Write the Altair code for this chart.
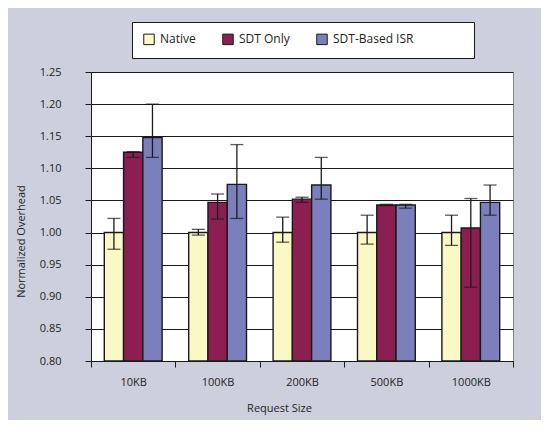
import altair as alt
import pandas as pd

categories = ["10KB", "100KB", "200KB", "500KB", "1000KB"]
series = ["Native", "SDT Only", "SDT-Based ISR"]

native = [1.000, 1.000, 1.000, 1.000, 1.000]
native_lo = [0.974, 0.996, 0.985, 0.982, 0.980]
native_hi = [1.022, 1.005, 1.024, 1.027, 1.027]

sdt = [1.125, 1.047, 1.052, 1.043, 1.007]
sdt_lo = [1.117, 1.021, 1.047, 1.042, 0.915]
sdt_hi = [1.126, 1.060, 1.055, 1.044, 1.053]

isr = [1.148, 1.075, 1.074, 1.043, 1.047]
isr_lo = [1.117, 1.022, 1.052, 1.038, 1.027]
isr_hi = [1.200, 1.137, 1.117, 1.044, 1.074]

colors = ["#FAF8C4", "#8B1F52", "#7B80BC"]
y_ticks = [0.80, 0.85, 0.90, 0.95, 1.00, 1.05, 1.10, 1.15, 1.20, 1.25]

rows = []
for s, vals, los, his in [
    ("Native", native, native_lo, native_hi),
    ("SDT Only", sdt, sdt_lo, sdt_hi),
    ("SDT-Based ISR", isr, isr_lo, isr_hi),
]:
    for c, v, lo, hi in zip(categories, vals, los, his):
        rows.append({"size": c, "series": s, "value": v, "lo": lo, "hi": hi})
df = pd.DataFrame(rows)

INK = "#1a1a1a"
FONT = "Open Sans"

x_enc = alt.X(
    "size:N",
    sort=categories,
    scale=alt.Scale(paddingInner=0, paddingOuter=0),
    axis=alt.Axis(
        title="Request Size",
        labelAngle=0,
        tickBand="extent",
        tickSize=6,
        tickColor=INK,
        domainColor=INK,
        labelPadding=9,
        titleX=188,
        titleY=47,
        titleBaseline="middle",
        titleAlign="center",
    ),
)
xo_enc = alt.XOffset(
    "series:N", sort=series, scale=alt.Scale(paddingInner=0, paddingOuter=0.69)
)

y_axis = alt.Axis(
    title="Normalized Overhead",
    values=y_ticks,
    format=".2f",
    grid=True,
    gridColor=INK,
    gridWidth=1,
    tickSize=6,
    tickColor=INK,
    domainColor=INK,
    labelPadding=24,
    titleX=-70,
    titleY=169,
    titleAngle=270,
    titleBaseline="middle",
    titleAlign="center",
)
y_scale = alt.Scale(domain=[0.8, 1.25], zero=False, nice=False)

base = alt.Chart(df)

bars = base.mark_bar(stroke=INK, strokeWidth=1.4).encode(
    x=x_enc,
    xOffset=xo_enc,
    y=alt.Y("value:Q", scale=y_scale, axis=y_axis),
    y2=alt.Y2Datum(0.8),
    color=alt.Color(
        "series:N",
        sort=series,
        scale=alt.Scale(domain=series, range=colors),
        legend=alt.Legend(
            orient="none",
            legendX=41,
            legendY=-50,
            direction="horizontal",
            columns=3,
            symbolType="square",
            symbolSize=110,
            symbolStrokeColor=INK,
            symbolStrokeWidth=1,
            symbolOpacity=1,
            labelFont=FONT,
            labelFontSize=12,
            labelColor="#231f20",
            labelOffset=5,
            columnPadding=24,
            padding=11,
            strokeColor=INK,
            fillColor="white",
            title=" ",
            titleOrient="right",
            titlePadding=50,
        ),
    ),
)

rules = base.mark_rule(color=INK, strokeWidth=1.3).encode(
    x=x_enc,
    xOffset=xo_enc,
    y=alt.Y("lo:Q", scale=y_scale, axis=y_axis),
    y2="hi:Q",
)

caps_lo = base.mark_tick(color=INK, size=13, thickness=1.3, orient="horizontal").encode(
    x=x_enc,
    xOffset=xo_enc,
    y=alt.Y("lo:Q", scale=y_scale, axis=y_axis),
)
caps_hi = base.mark_tick(color=INK, size=13, thickness=1.3, orient="horizontal").encode(
    x=x_enc,
    xOffset=xo_enc,
    y=alt.Y("hi:Q", scale=y_scale, axis=y_axis),
)

chart = (
    alt.layer(bars, rules, caps_lo, caps_hi)
    .properties(
        width=422,
        height=289,
        padding={"left": 83, "top": 64, "right": 28, "bottom": 59},
        autosize=alt.AutoSizeParams(type="none"),
        background="#CDCFDD",
    )
    .configure_view(stroke="#888888", strokeWidth=1, fill="white")
    .configure_axis(
        labelFont=FONT,
        titleFont=FONT,
        labelFontSize=11,
        titleFontSize=11,
        titleFontWeight="normal",
        labelColor="#231f20",
        titleColor="#231f20",
    )
)

chart.save("out.html", embed_options={"renderer": "svg", "actions": False})
